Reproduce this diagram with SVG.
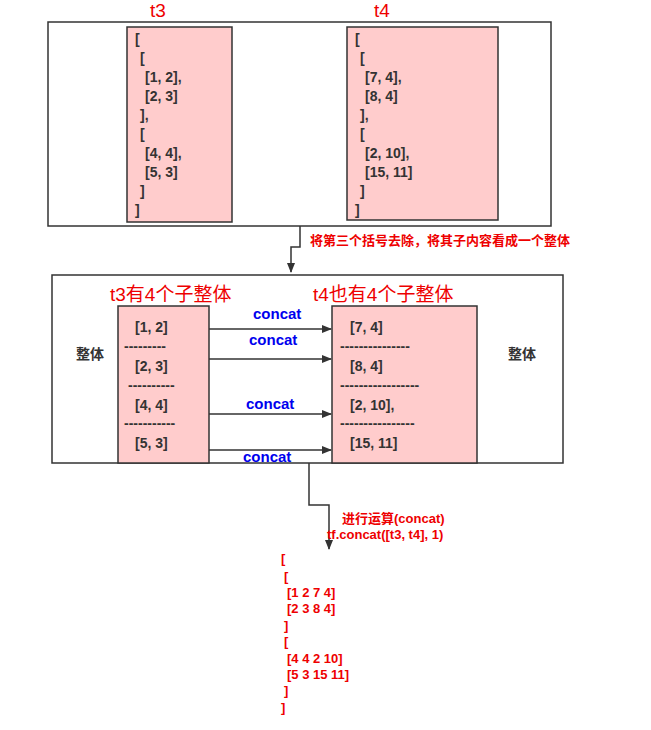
<svg xmlns="http://www.w3.org/2000/svg" width="651" height="730" viewBox="0 0 651 730">
<style>
.box{fill:#fff;stroke:#333;stroke-width:1.5}
.pink{fill:#ffcccc;stroke:#333;stroke-width:1.5}
.t{font-family:"Liberation Sans","Noto Sans CJK SC",sans-serif;font-weight:bold;font-size:14px;fill:#333}
.red{font-family:"Liberation Sans","Noto Sans CJK SC",sans-serif;font-size:19px;fill:#e00}
.rb{font-family:"Liberation Sans","Noto Sans CJK SC",sans-serif;font-weight:bold;font-size:13px;fill:#e00}
.blue{font-family:"Liberation Sans",sans-serif;font-weight:bold;font-size:15px;fill:#0000ee}
.ln{fill:none;stroke:#333;stroke-width:1.5}
</style>
<defs><marker id="a" markerWidth="10" markerHeight="8" refX="9" refY="4" orient="auto" markerUnits="userSpaceOnUse"><path d="M0,0L10,4L0,8z" fill="#333"/></marker></defs>
<g id="top">
<rect class="box" x="48" y="22" width="503" height="204"/>
<g id="t3a"><rect class="pink" x="127" y="27" width="105" height="195"/>
<text class="red" x="150" y="17">t3</text>
<text class="t"><tspan x="135" y="44">[</tspan><tspan x="140" y="63">[</tspan><tspan x="145" y="82">[1, 2],</tspan><tspan x="145" y="101">[2, 3]</tspan><tspan x="140" y="120">],</tspan><tspan x="140" y="139">[</tspan><tspan x="145" y="158">[4, 4],</tspan><tspan x="145" y="177">[5, 3]</tspan><tspan x="140" y="196">]</tspan><tspan x="135" y="215">]</tspan></text></g>
<g id="t4a"><rect class="pink" x="347" y="27" width="151" height="193"/>
<text class="red" x="374" y="17">t4</text>
<text class="t"><tspan x="355" y="44">[</tspan><tspan x="360" y="63">[</tspan><tspan x="365" y="82">[7, 4],</tspan><tspan x="365" y="101">[8, 4]</tspan><tspan x="360" y="120">],</tspan><tspan x="360" y="139">[</tspan><tspan x="365" y="158">[2, 10],</tspan><tspan x="365" y="177">[15, 11]</tspan><tspan x="360" y="196">]</tspan><tspan x="355" y="215">]</tspan></text></g>
</g>
<g id="mid">
<rect class="box" x="52" y="275" width="511" height="188"/>
<text class="t" x="76" y="359">整体</text>
<text class="t" x="508" y="359">整体</text>
<g id="t3b"><rect class="pink" x="118" y="306" width="91" height="157"/>
<text class="red" x="110" y="301">t3有4个子整体</text>
<text class="t"><tspan x="135" y="332">[1, 2]</tspan><tspan x="124" y="351">---------</tspan><tspan x="135" y="371">[2, 3]</tspan><tspan x="128" y="390">----------</tspan><tspan x="135" y="410">[4, 4]</tspan><tspan x="124" y="428">-----------</tspan><tspan x="135" y="448">[5, 3]</tspan></text></g>
<g id="t4b"><rect class="pink" x="332" y="306" width="145" height="157"/>
<text class="red" x="313" y="301">t4也有4个子整体</text>
<text class="t"><tspan x="350" y="332">[7, 4]</tspan><tspan x="340" y="351">---------------</tspan><tspan x="350" y="371">[8, 4]</tspan><tspan x="340" y="390">-----------------</tspan><tspan x="350" y="410">[2, 10],</tspan><tspan x="340" y="428">----------------</tspan><tspan x="350" y="448">[15, 11]</tspan></text></g>
<text class="blue"><tspan x="253" y="319">concat</tspan><tspan x="249" y="345">concat</tspan><tspan x="246" y="409">concat</tspan><tspan x="243" y="462">concat</tspan></text>
</g>
<g id="connectors">
<path class="ln" d="M300,226V247H291V272" marker-end="url(#a)"/>
<path class="ln" d="M209,329H331" marker-end="url(#a)"/>
<path class="ln" d="M209,359H331" marker-end="url(#a)"/>
<path class="ln" d="M209,414H331" marker-end="url(#a)"/>
<path class="ln" d="M209,450H331" marker-end="url(#a)"/>
<path class="ln" d="M309,463V505H329V549" marker-end="url(#a)"/>
</g>
<text class="rb" x="310" y="245" font-size="11">将第三个括号去除，将其子内容看成一个整体</text>
<text class="rb" x="342" y="523">进行运算(concat)</text>
<text class="rb" x="327" y="539">tf.concat([t3, t4], 1)</text>
<g id="result"><text class="rb"><tspan x="281" y="563">[</tspan><tspan x="284" y="581">[</tspan><tspan x="287" y="597">[1 2 7 4]</tspan><tspan x="287" y="613">[2 3 8 4]</tspan><tspan x="284" y="630">]</tspan><tspan x="284" y="646">[</tspan><tspan x="287" y="663">[4 4 2 10]</tspan><tspan x="287" y="679">[5 3 15 11]</tspan><tspan x="284" y="695">]</tspan><tspan x="281" y="712">]</tspan></text></g>
</svg>
